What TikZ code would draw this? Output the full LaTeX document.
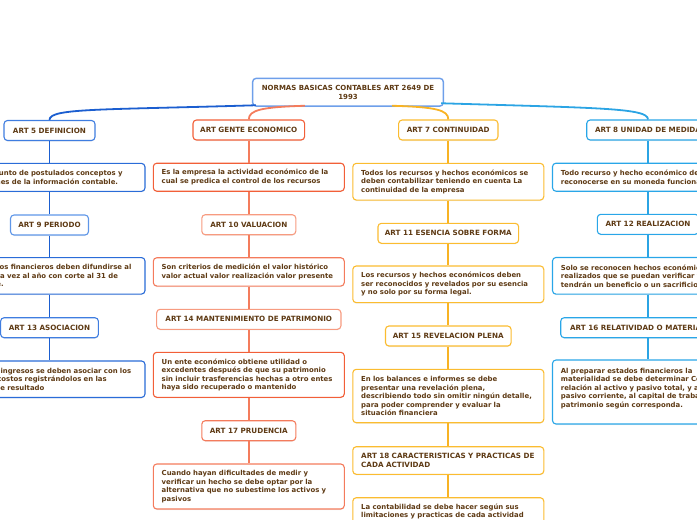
\documentclass[tikz,border=0pt]{standalone}
\usepackage{fontspec}
\setmainfont{DejaVu Sans}
\usetikzlibrary{calc,shadows}
\definecolor{txt}{HTML}{5E3A14}
\definecolor{rootc}{HTML}{6E9FEA}
\definecolor{bAline}{HTML}{1B5ED0}
\definecolor{bAbox}{HTML}{2A6CD8}
\definecolor{bAhead}{HTML}{3F7DE0}
\definecolor{bAlight}{HTML}{5E96E8}
\definecolor{bBline}{HTML}{F47C5C}
\definecolor{bBdark}{HTML}{F25F38}
\definecolor{bBmid}{HTML}{F47B5C}
\definecolor{bBlight}{HTML}{F79B80}
\definecolor{bCline}{HTML}{F8B324}
\definecolor{bCbox}{HTML}{FBBC30}
\definecolor{bDline}{HTML}{2BA4E4}
\definecolor{bDbox}{HTML}{29A6E8}
\tikzset{
  box/.style={draw, fill=white, rounded corners=3.5pt, line width=1.1pt, text=txt,
    drop shadow={shadow xshift=0pt, shadow yshift=-1pt, opacity=0.12}},
  head/.style={box, font=\fontsize{7.2}{8.5}\selectfont\bfseries, minimum height=20pt,
    inner sep=0pt, align=center},
  body/.style={box, font=\fontsize{6.9}{8.5}\selectfont\bfseries, text width=174.2pt,
    inner xsep=8.4pt, inner ysep=0pt, align=left},
  rootbox/.style={box, line width=1.4pt, draw=rootc, font=\fontsize{7}{9.3}\selectfont\bfseries,
    minimum width=190.7pt, minimum height=27.7pt, inner sep=0pt, align=center},
  link/.style={line width=1.8pt},
}
\begin{document}
\begin{tikzpicture}[x=1pt,y=-1pt]
\useasboundingbox (0,0) rectangle (697,520);
\clip (0,0) rectangle (697,520);
% root
\node[rootbox] (root) at (348,92.2) {NORMAS BASICAS CONTABLES ART 2649 DE\\1993};
% column 1
\node[head, draw=bAhead, minimum width=91pt] (h5) at (49.5,130.5) {ART 5 DEFINICION};
\node[body, draw=bAbox, minimum height=28pt] (t5) at (49.5,177.4) {Es el conjunto de postulados conceptos y\\limitaciones de la información contable.};
\node[head, draw=bAlight, minimum width=78pt] (h9) at (49.5,225) {ART 9 PERIODO};
\node[body, draw=bAbox, minimum height=36.5pt] (t9) at (49.5,275.8) {Los estados financieros deben difundirse al\\menos una vez al año con corte al 31 de\\diciembre.};
\node[head, draw=bAhead, minimum width=97.8pt] (h13) at (49.5,327.7) {ART 13 ASOCIACION};
\node[body, draw=bAbox, minimum height=36.5pt] (t13) at (49.5,379.2) {Todos los ingresos se deben asociar con los\\gastos y costos registrándolos en las\\cuentas de resultado};
% column 2
\node[head, draw=bBdark, minimum width=111.6pt] (hGE) at (248.8,130) {ART GENTE ECONOMICO};
\node[body, draw=bBdark, minimum height=28pt] (tGE) at (248.8,177.2) {Es la empresa la actividad económico de la\\cual se predica el control de los recursos};
\node[head, draw=bBlight, minimum width=94pt] (h10) at (248.8,224.7) {ART 10 VALUACION};
\node[body, draw=bBmid, minimum height=28.3pt] (t10) at (248.8,271.9) {Son criterios de medición el valor histórico\\valor actual valor realización valor presente};
\node[head, draw=bBlight, minimum width=184.3pt] (h14) at (248.8,319.3) {ART 14 MANTENIMIENTO DE PATRIMONIO};
\node[body, draw=bBdark, minimum height=45pt] (t14) at (248.8,374.8) {Un ente económico obtiene utilidad o\\excedentes después de que su patrimonio\\sin incluir trasferencias hechas a otro entes\\haya sido recuperado o mantenido};
\node[head, draw=bBmid, minimum width=94pt] (h17) at (248.8,430.7) {ART 17 PRUDENCIA};
\node[body, draw=bBmid, minimum height=45pt] (t17) at (248.8,486.5) {Cuando hayan dificultades de medir y\\verificar un hecho se debe optar por la\\alternativa que no subestime los activos y\\pasivos};
% column 3
\node[head, draw=bCbox, minimum width=99.3pt] (h7) at (448.3,130) {ART 7 CONTINUIDAD};
\node[body, draw=bCbox, minimum height=36.7pt] (t7) at (448.3,181.7) {Todos los recursos y hechos económicos se\\deben contabilizar teniendo en cuenta La\\continuidad de la empresa};
\node[head, draw=bCbox, minimum width=140.7pt] (h11) at (448.3,233.3) {ART 11 ESENCIA SOBRE FORMA};
\node[body, draw=bCbox, minimum height=36.7pt] (t11) at (448.3,284.3) {Los recursos y hechos económicos deben\\ser reconocidos y revelados por su esencia\\y no solo por su forma legal.};
\node[head, draw=bCbox, minimum width=125.7pt] (h15) at (448.3,336) {ART 15 REVELACION PLENA};
\node[body, draw=bCbox, minimum height=53.4pt] (t15) at (448.3,396) {En los balances e informes se debe\\presentar una revelación plena,\\describiendo todo sin omitir ningún detalle,\\para poder comprender y evaluar la\\situación financiera};
\node[body, draw=bCbox, minimum height=27.6pt, font=\fontsize{7.2}{8.5}\selectfont\bfseries] (h18) at (448.3,460.5) {ART 18 CARACTERISTICAS Y PRACTICAS DE\\CADA ACTIVIDAD};
\node[body, draw=bCbox, minimum height=28pt] (t18) at (448.3,511.7) {La contabilidad se debe hacer según sus\\limitaciones y practicas de cada actividad};
% column 4
\node[head, draw=bDbox, minimum width=122.6pt] (h8) at (648,130) {ART 8 UNIDAD DE MEDIDA};
\node[body, draw=bDbox, minimum height=28pt] (t8) at (648,177.2) {Todo recurso y hecho económico debe\\reconocerse en su moneda funcional};
\node[head, draw=bDbox, minimum width=101.4pt] (h12) at (648,224.3) {ART 12 REALIZACION};
\node[body, draw=bDbox, minimum height=36.7pt] (t12) at (648,275.8) {Solo se reconocen hechos económicos\\realizados que se puedan verificar y que\\tendrán un beneficio o un sacrificio};
\node[head, draw=bDbox, minimum width=174.6pt] (h16) at (648,327.7) {ART 16 RELATIVIDAD O MATERIALIDAD};
\node[body, draw=bDbox, minimum height=64pt] (t16) at (648,392) {Al preparar estados financieros la\\materialidad se debe determinar Con\\relación al activo y pasivo total, y al\\pasivo corriente, al capital de trabajo, al\\patrimonio según corresponda.\\\mbox{}};
% root connectors
\draw[link, bAline] ($(root.south west)+(4,-1.5)$) .. controls (100,110) and (49.5,108) .. (h5.north);
\draw[link, bBline] ($(root.south)+(-43,-1)$) .. controls (262,107) and (248.8,110) .. (hGE.north);
\draw[link, bCline] ($(root.south)+(44,-1)$) .. controls (436,107) and (448.3,110) .. (h7.north);
\draw[link, bDline] ($(root.south east)+(-3,-3.5)$) .. controls (600,108) and (648,108) .. (h8.north);
% column connectors
\foreach \a/\b in {h5/t5,t5/h9,h9/t9,t9/h13,h13/t13}
  \draw[link, bAline] (\a.south) -- (\a.south |- \b.north);
\foreach \a/\b in {hGE/tGE,tGE/h10,h10/t10,t10/h14,h14/t14,t14/h17,h17/t17}
  \draw[link, bBline] (\a.south) -- (\a.south |- \b.north);
\foreach \a/\b in {h7/t7,t7/h11,h11/t11,t11/h15,h15/t15,t15/h18,h18/t18}
  \draw[link, bCline] (\a.south) -- (\a.south |- \b.north);
\foreach \a/\b in {h8/t8,t8/h12,h12/t12,t12/h16,h16/t16}
  \draw[link, bDline] (\a.south) -- (\a.south |- \b.north);
\end{tikzpicture}
\end{document}
